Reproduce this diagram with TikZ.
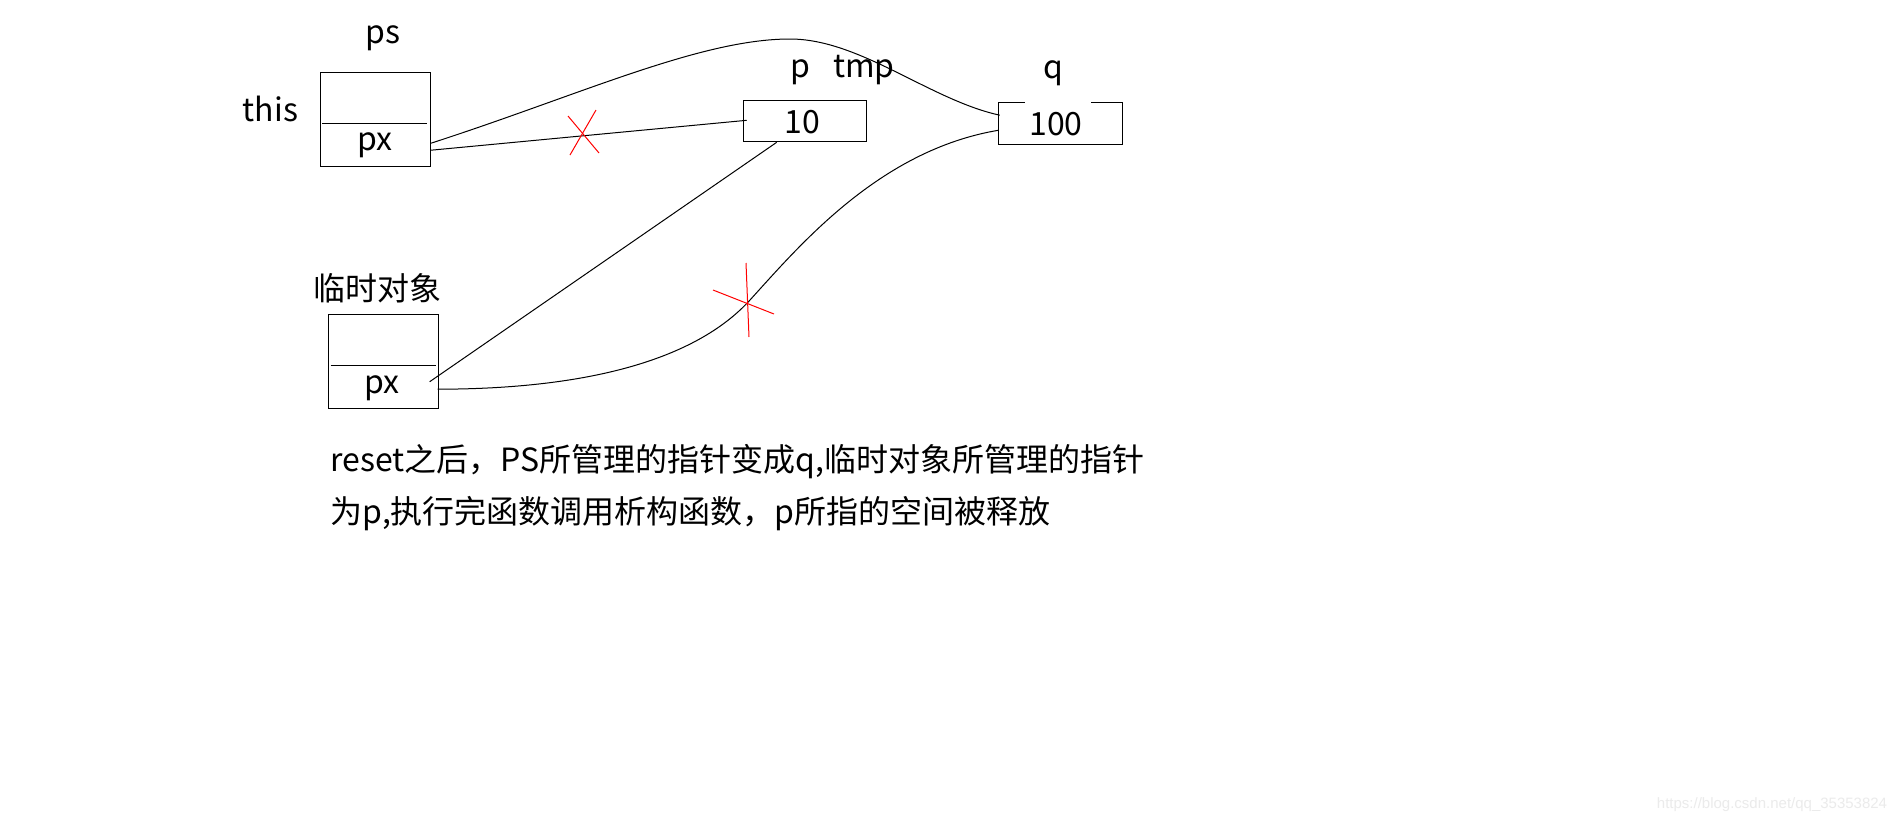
\documentclass[tikz,border=0pt]{standalone}
\usepackage{fontspec}
\setmainfont{Noto Sans CJK SC}
\newfontfamily\wmfont{Liberation Sans}
\usetikzlibrary{calc}

\begin{document}
\begin{tikzpicture}[x=1pt,y=-1pt,line width=1pt,
    obj node/.style={rectangle,draw,inner sep=0pt,minimum width=110pt,minimum height=94pt},
    val node/.style={rectangle,inner sep=0pt,minimum width=123pt,minimum height=41pt},
    label node/.style={anchor=base,inner sep=0pt,font=\fontsize{32}{38}\selectfont},
    red cross/.style={red,line width=1pt}]
      \useasboundingbox[fill=white] (0,0) rectangle (1903,823);

      % objects
      \node[obj node] (ps) at (375.5,119.2) {};
      \node[obj node] (tmpbox) at (383.2,361.2) {};
      \node[val node,draw] (pbox) at (804.7,121.3) {};
      \node[val node] (qbox) at (1060.8,123.2) {};
      \draw ([xshift=26pt]qbox.north west) -- (qbox.north west) -- (qbox.south west)
        -- (qbox.south east) -- (qbox.north east) -- ([xshift=-32pt]qbox.north east);
      \draw ($(ps.west)+(2,4)$) -- ($(ps.east)+(-4,4)$);
      \draw ($(tmpbox.west)+(3,4)$) -- ($(tmpbox.east)+(-3,4)$);

      % labels
      \node[label node] (pslabel) at (383,43.3) {ps};
      \node[label node] (thislabel) at (270.5,121.7) {this};
      \node[label node] (pspx) at (375,150) {px};
      \node[label node] (plabel) at (800,77) {p};
      \node[label node] (tmplabel) at (864,77) {tmp};
      \node[label node] (qlabel) at (1053,78) {q};
      \node[label node] (pval) at (802,133.3) {10};
      \node[label node] (qval) at (1056,135) {100};
      \node[label node] (tmpname) at (377,300) {临时对象};
      \node[label node] (tmppx) at (382,393.3) {px};

      % pointers
      \draw ($(ps.east)+(0,24)$) .. controls (580,95) and (700,39) .. (790,39)
        .. controls (860,39) and (930,100) .. ($(qbox.west)+(1,-8)$);
      \draw ($(ps.east)+(0,31)$) -- ($(pbox.west)+(4,-1)$);
      \draw ($(pbox.south)+(-28,0)$) -- ($(tmpbox.east)+(-9,20.5)$);
      \draw ($(qbox.west)+(0,7)$) .. controls (880,150) and (800,245) .. (750,300)
        .. controls (700,355) and (600,389) .. ($(tmpbox.east)+(-1,28)$);

      % broken links
      \coordinate (cut1) at (582,134);
      \coordinate (cut2) at (748,300);
      \draw[red cross] ($(cut1)+(-14,-18)$) -- ($(cut1)+(17,19)$);
      \draw[red cross] ($(cut1)+(14,-24)$) -- ($(cut1)+(-12,21)$);
      \draw[red cross] ($(cut2)+(-2,-37)$) -- ($(cut2)+(1,37)$);
      \draw[red cross] ($(cut2)+(-35,-10)$) -- ($(cut2)+(26,14)$);

      % note
      \node[label node,anchor=base west] (note1) at (330,471)
        {reset之后，PS所管理的指针变成q,临时对象所管理的指针};
      \node[label node,anchor=base west] (note2) at (330,523)
        {为p,执行完函数调用析构函数，p所指的空间被释放};

      \node[font=\wmfont\fontsize{15}{18}\selectfont,text=black!8] (mark) at (1772,805)
        {https://blog.csdn.net/qq\_35353824};
    \end{tikzpicture}
\end{document}
